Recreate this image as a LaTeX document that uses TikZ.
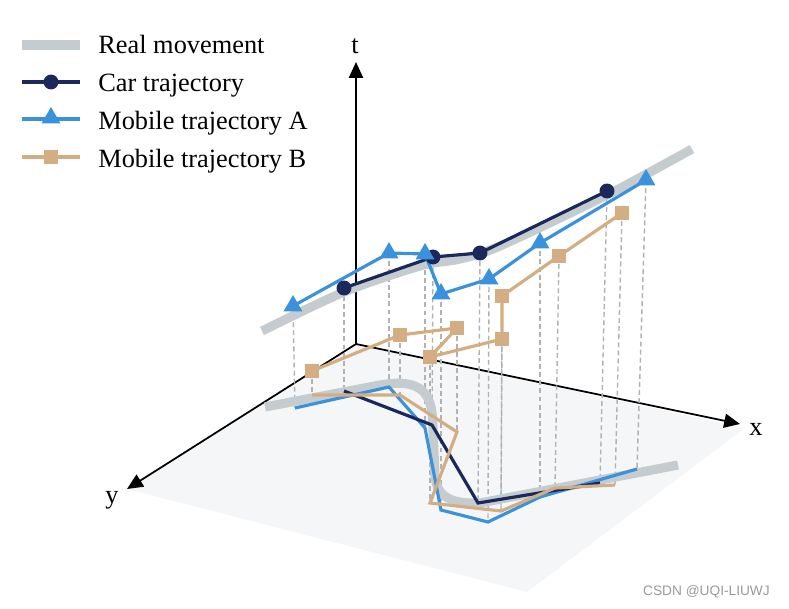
\documentclass[tikz,border=0pt]{standalone}
\usepackage{fontspec}
\setmainfont{Liberation Serif}
\newfontfamily\marksans{Liberation Sans}
\usetikzlibrary{arrows.meta,shapes.geometric,positioning}
\definecolor{realgray}{RGB}{196,204,207}
\definecolor{carnavy}{RGB}{26,40,92}
\definecolor{mobblue}{RGB}{58,146,220}
\definecolor{mobtan}{RGB}{212,173,130}
\definecolor{planegray}{RGB}{245,246,248}
\tikzset{realband/.style={draw=realgray, line width=5.2pt}}
\tikzset{carline/.style={draw=carnavy, line width=1.8pt}}
\tikzset{aline/.style={draw=mobblue, line width=1.8pt}}
\tikzset{bline/.style={draw=mobtan, line width=1.8pt}}
\tikzset{carmark/.style={circle, fill=carnavy, inner sep=0pt, minimum size=8.5pt}}
\tikzset{amark/.style={regular polygon, regular polygon sides=3, fill=mobblue, inner sep=0pt, minimum size=12.5pt}}
\tikzset{bmark/.style={rectangle, fill=mobtan, inner sep=0pt, minimum size=7.5pt}}
\tikzset{dropline/.style={draw=gray!60, line width=0.8pt, dash pattern=on 2.8pt off 1.8pt}}
\tikzset{axisline/.style={draw=black, line width=1pt, -{Triangle[length=9pt,width=8pt]}}}
\tikzset{legtext/.style={anchor=base west, inner sep=0pt}}

\begin{document}
\begin{tikzpicture}[x=0.02cm, y=-0.02cm, font=\fontsize{15}{18}\selectfont]
  \useasboundingbox (0,0) rectangle (789,609);
  % ground plane and axes
  \coordinate (o) at (356,344);
  \coordinate (xend) at (740,424);
  \coordinate (yend) at (127,489);
  \coordinate (tend) at (356,62);
  \fill[planegray] (o) -- (127,489) -- (527,592) -- (745,428) -- cycle;
  \draw[axisline] (o) -- (tend);
  \draw[axisline] (o) -- (xend);
  \draw[axisline] (o) -- (yend);
  \node[anchor=base] (tlab) at (355,53) {t};
  \node[anchor=base] (xlab) at (756,435) {x};
  \node[anchor=base] (ylab) at (112,503) {y};

  % trajectory points: up = in (x,y,t), g = on the ground
  \foreach \n/\x/\y/\gx/\gy in {1/344/288/344/391, 2/433/257/432/425,
      3/480/253/478/503, 4/607/191/600/483} {
    \coordinate (car\n) at (\x,\y);
    \coordinate (carg\n) at (\gx,\gy);
  }
  \foreach \n/\x/\y/\gx/\gy in {1/293/306/295/408, 2/389/253/389/387,
      3/425/254/425/428, 4/441/294/441/510, 5/489/279/488/522,
      6/540/243/540/497, 7/646/180/637/469} {
    \coordinate (moba\n) at (\x,\y);
    \coordinate (mobag\n) at (\gx,\gy);
  }
  \foreach \n/\x/\y/\gx/\gy in {1/312/371/312/395, 2/400/335/400/395,
      3/457/328/457/432, 4/430/357/430/503, 5/502/339/501/511,
      6/502/296/501/511, 7/559/256/555/488, 8/622/213/615/485} {
    \coordinate (mobb\n) at (\x,\y);
    \coordinate (mobbg\n) at (\gx,\gy);
  }

  % projections
  \foreach \n in {1,...,4} \draw[dropline] (car\n) -- (carg\n);
  \foreach \n in {1,...,7} \draw[dropline] (moba\n) -- (mobag\n);
  \foreach \n in {1,...,8} \draw[dropline] (mobb\n) -- (mobbg\n);

  % ground traces
  \draw[realband] (265,407) -- (380,385) .. controls (426,377) and (433,397) .. (433,430)
    -- (435,475) .. controls (436,499) and (455,504) .. (480,503) -- (678,465);
  \draw[aline] (mobag1) -- (mobag2) -- (mobag3) -- (mobag4) -- (mobag5) -- (mobag6) -- (mobag7);
  \draw[carline] (carg1) -- (carg2) -- (carg3) -- (carg4);
  \draw[bline] (mobbg1) -- (mobbg2) -- (mobbg3) -- (mobbg4) -- (mobbg5) -- (mobbg7) -- (mobbg8);

  % space-time traces
  \draw[realband] plot[smooth] coordinates {(262,331) (344,292) (420,266) (460,259)
    (500,246) (607,195) (692,149)};
  \draw[carline] (car1) -- (car2) -- (car3) -- (car4);
  \draw[aline] (moba1) -- (moba2) -- (moba3) -- (moba4) -- (moba5) -- (moba6) -- (moba7);
  \draw[bline] (mobb1) -- (mobb2) -- (mobb3) -- (mobb4) -- (mobb5) -- (mobb6) -- (mobb7) -- (mobb8);
  \foreach \n in {1,...,4} \node[carmark] (carm\n) at (car\n) {};
  \foreach \n in {1,...,7} \node[amark] (mobam\n) at (moba\n) {};
  \foreach \n in {1,...,8} \node[bmark] (mobbm\n) at (mobb\n) {};

  % legend
  \draw[realband] (22,45) -- (80,45);
  \draw[carline] (22,82) -- (80,82);
  \draw[aline] (22,119) -- (80,119);
  \draw[bline] (22,157) -- (80,157);
  \node[carmark] (legcar) at (51,82) {};
  \node[amark] (lega) at (51,118) {};
  \node[bmark] (legb) at (51,157) {};
  \node[legtext] (legrealtext) at (98,53) {Real movement};
  \node[legtext] (legcartext) at (98,91) {Car trajectory};
  \node[legtext] (legatext) at (98,129) {Mobile trajectory A};
  \node[legtext] (legbtext) at (98,167) {Mobile trajectory B};

  \node[anchor=base east, text=gray!80, font=\marksans\fontsize{7.8}{9}\selectfont] (mark) at (776,595) {CSDN @UQI-LIUWJ};
\end{tikzpicture}
\end{document}
